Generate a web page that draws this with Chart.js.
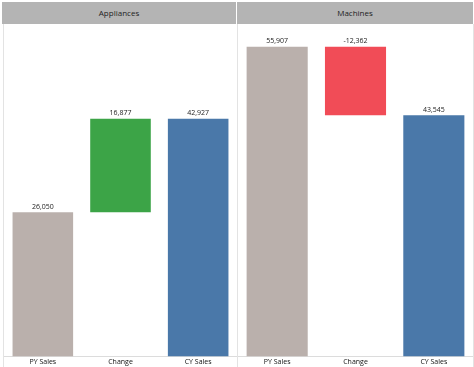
<!DOCTYPE html>
<html>
<head>
<meta charset="utf-8">
<script src="https://cdn.jsdelivr.net/npm/chart.js@4"></script>
<style>
  body { margin: 0; background: #fff; font-family: "Open Sans", Lato, sans-serif; }
  .header {
    position: absolute; top: 2px; height: 22px; background: #b4b4b4;
    font-size: 8px; color: #222; text-align: center; line-height: 22px;
  }
  .panel { position: absolute; top: 24px; height: 343px; border-left: 1px solid #e3e3e3; }
  .panel canvas { display: block; }
</style>
</head>
<body>
<div class="header" id="head0" style="left:2px;width:234px;"></div>
<div class="header" id="head1" style="left:237px;width:236px;"></div>
<div class="panel" style="left:3px;width:233px;"><canvas id="chart0" width="233" height="343"></canvas></div>
<div class="panel" style="left:237px;width:235px;border-right:1px solid #e3e3e3;"><canvas id="chart1" width="235" height="343"></canvas></div>
<script>
// Data
const panelNames = ['Appliances', 'Machines'];
const categories = ['PY Sales', 'Change', 'CY Sales'];
const pySales = [26050, 55907];
const changeValues = [16877, -12362];
const cySales = [42927, 43545];

const pyColor = '#bab0ac';
const cyColor = '#4a78a9';
const upColor = '#3ca447';
const downColor = '#f14c57';

// Draws the value above each bar
const valueLabels = {
    id: 'valueLabels',
    afterDatasetsDraw(chart) {
        const ctx = chart.ctx;
        const labels = chart.options.plugins.valueLabels.texts;
        const meta = chart.getDatasetMeta(0);
        ctx.save();
        ctx.font = '7px "Open Sans", Lato, sans-serif';
        ctx.fillStyle = '#222';
        ctx.textAlign = 'center';
        ctx.textBaseline = 'bottom';
        meta.data.forEach((bar, i) => {
            const top = Math.min(bar.y, bar.base);
            ctx.fillText(labels[i], bar.x, top - 2);
        });
        ctx.restore();
    }
};

function fmt(v) {
    return v.toLocaleString('en-US');
}

for (let p = 0; p < panelNames.length; p++) {
    document.getElementById('head' + p).textContent = panelNames[p];

    const py = pySales[p];
    const change = changeValues[p];
    const cy = cySales[p];

    const ctx = document.getElementById('chart' + p).getContext('2d');
    new Chart(ctx, {
        type: 'bar',
        data: {
            labels: categories,
            datasets: [{
                data: [[0, py], [py, py + change], [0, cy]],
                backgroundColor: [pyColor, change >= 0 ? upColor : downColor, cyColor],
                barPercentage: 0.78,
                categoryPercentage: 1
            }]
        },
        options: {
            responsive: false,
            animation: false,
            layout: { padding: 0 },
            plugins: {
                legend: { display: false },
                tooltip: { enabled: false },
                valueLabels: { texts: [fmt(py), fmt(change), fmt(cy)] }
            },
            scales: {
                x: {
                    grid: { display: false, drawTicks: false },
                    border: { color: '#dcdcdc' },
                    ticks: {
                        color: '#111',
                        font: { size: 7, family: '"Open Sans", Lato, sans-serif' },
                        padding: 1
                    }
                },
                y: {
                    display: false,
                    min: 0,
                    max: 60000
                }
            }
        },
        plugins: [valueLabels]
    });
}
</script>
</body>
</html>
